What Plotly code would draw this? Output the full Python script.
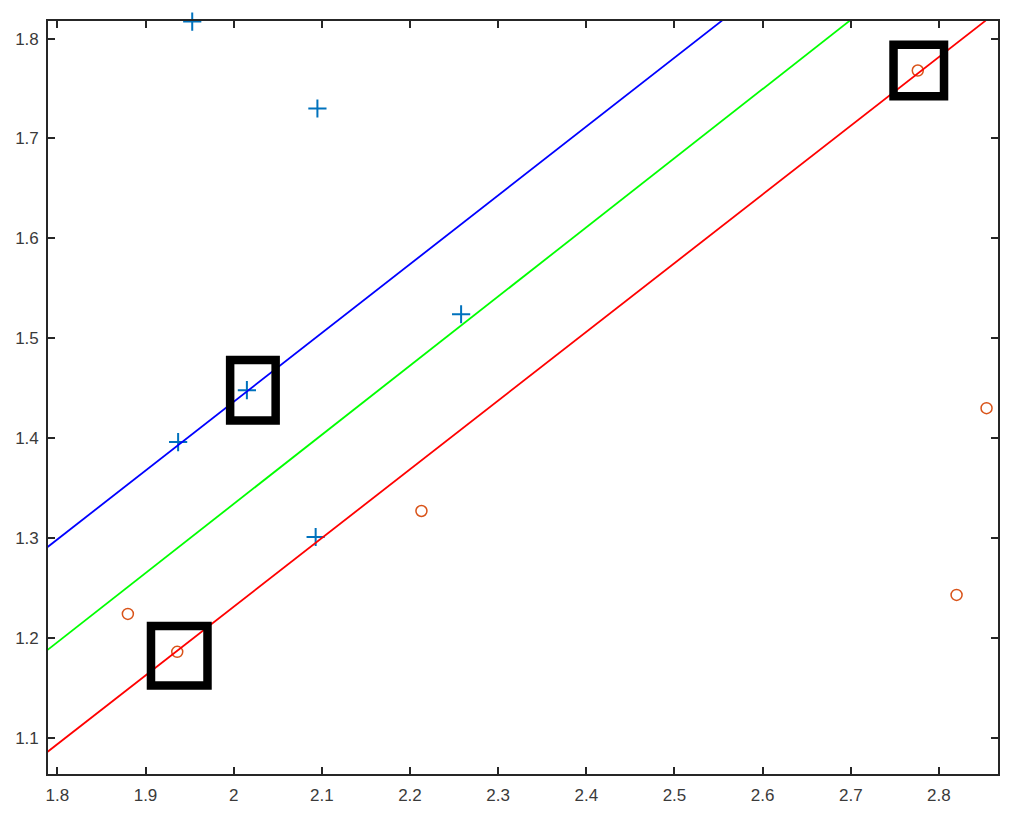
import plotly.graph_objects as go

# class +1 samples (blue crosses)
pos_x = [1.953, 2.095, 2.258, 2.015, 1.937, 2.093]
pos_y = [1.817, 1.730, 1.524, 1.448, 1.396, 1.301]

# class -1 samples (orange circles)
neg_x = [1.880, 1.936, 2.213, 2.776, 2.820, 2.854]
neg_y = [1.224, 1.186, 1.327, 1.768, 1.243, 1.430]

# support vectors (boxed points)
sv_x = [2.015, 1.936, 2.776]
sv_y = [1.448, 1.186, 1.768]

# margin / boundary lines, end points read at the plot edges
upper_x = [1.789, 2.554]
upper_y = [1.291, 1.818]
mid_x = [1.789, 2.699]
mid_y = [1.188, 1.818]
lower_x = [1.789, 2.853]
lower_y = [1.086, 1.818]

x_ticks = [1.8, 1.9, 2.0, 2.1, 2.2, 2.3, 2.4, 2.5, 2.6, 2.7, 2.8]
x_labels = ["1.8", "1.9", "2", "2.1", "2.2", "2.3", "2.4", "2.5", "2.6", "2.7", "2.8"]
y_ticks = [1.1, 1.2, 1.3, 1.4, 1.5, 1.6, 1.7, 1.8]
y_labels = ["1.1", "1.2", "1.3", "1.4", "1.5", "1.6", "1.7", "1.8"]

fig = go.Figure()

fig.add_trace(go.Scatter(x=pos_x, y=pos_y, mode="markers", cliponaxis=False,
                         marker=dict(symbol="cross-thin", size=13,
                                     line=dict(width=2, color="#0072BD"))))
fig.add_trace(go.Scatter(x=neg_x, y=neg_y, mode="markers", cliponaxis=False,
                         marker=dict(symbol="circle-open", size=11, color="#D95319",
                                     line=dict(width=1.5, color="#D95319"))))

for lx, ly, col in [(upper_x, upper_y, "#0000FF"),
                    (mid_x, mid_y, "#00FF00"),
                    (lower_x, lower_y, "#FF0000")]:
    fig.add_trace(go.Scatter(x=lx, y=ly, mode="lines",
                             line=dict(color=col, width=1.8)))

# boxes round the support vectors: (outer width, outer height, dx, dy) in px
box_px = [(54, 69, 6, 0), (65, 68, 2, -4), (59, 60, 1, 0)]
lw = 8.5
for cx, cy, (w, h, dx, dy) in zip(sv_x, sv_y, box_px):
    hw = (w - lw) / 2
    hh = (h - lw) / 2
    fig.add_shape(type="rect", xref="x", yref="y",
                  xsizemode="pixel", ysizemode="pixel",
                  xanchor=cx, yanchor=cy,
                  x0=dx - hw, x1=dx + hw, y0=dy - hh, y1=dy + hh,
                  line=dict(color="black", width=lw))

axis_style = dict(showgrid=False, zeroline=False, showline=True, mirror="ticks",
                  linecolor="#262626", linewidth=1.6, ticks="inside", ticklen=7,
                  tickwidth=1.5, tickcolor="#262626", automargin=False,
                  tickfont=dict(family="Liberation Sans, Arial", size=17, color="#3a3a3a"))

fig.update_xaxes(range=[1.7894, 2.867], tickvals=x_ticks, ticktext=x_labels,
                 ticklabelstandoff=5, **axis_style)
fig.update_yaxes(range=[1.0637, 1.8176], tickvals=y_ticks, ticktext=y_labels,
                 ticklabelstandoff=4, **axis_style)

# the page body adds an 8px offset, so margins are shifted to match
fig.update_layout(width=1024, height=820, showlegend=False,
                  margin=dict(l=40, r=34, t=13, b=54),
                  plot_bgcolor="white", paper_bgcolor="white")

fig.write_html("out.html")
